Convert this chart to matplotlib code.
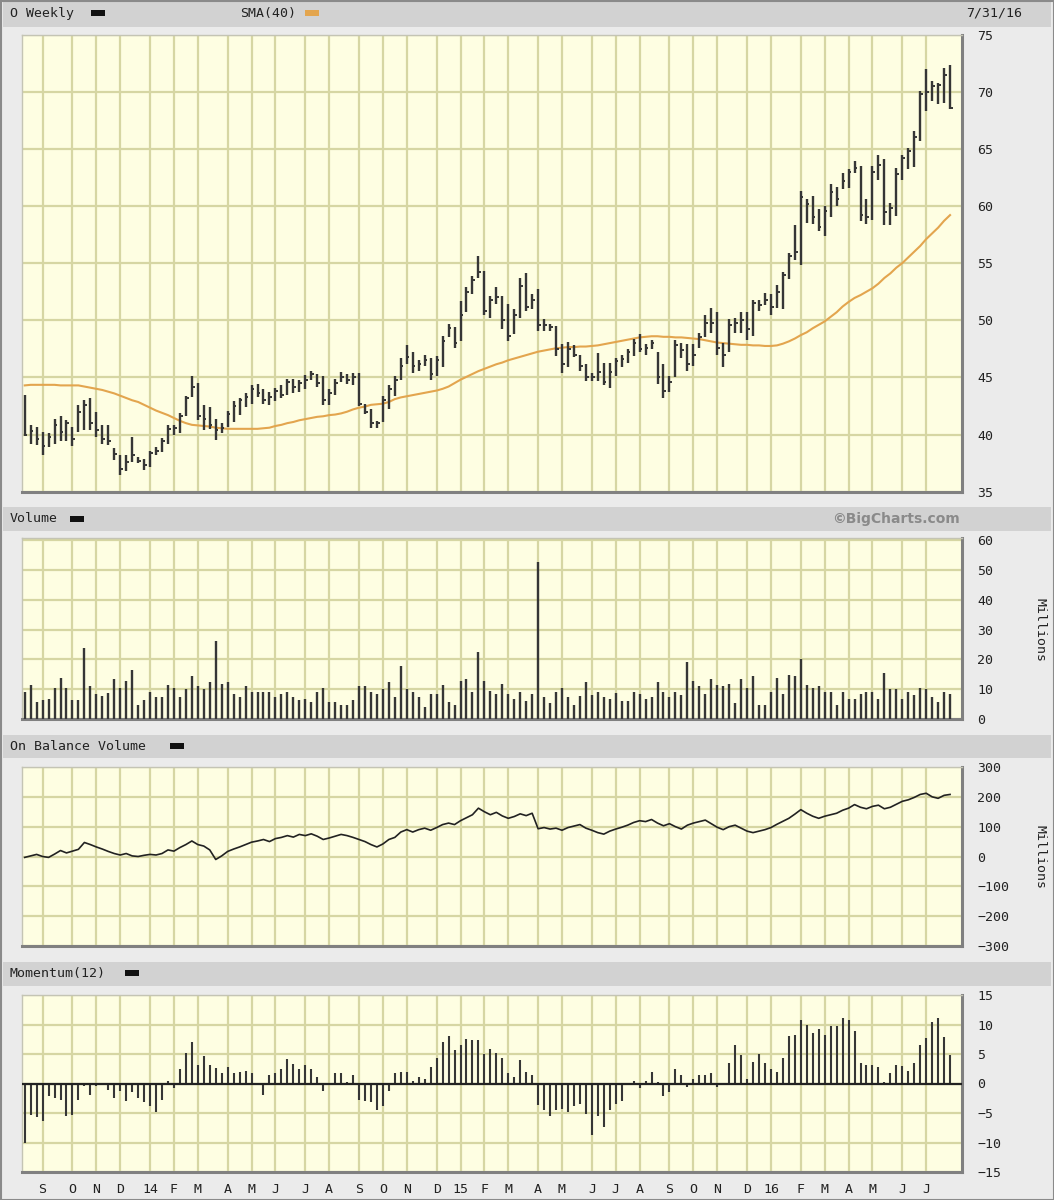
import numpy as np
import matplotlib
matplotlib.use("Agg")
import matplotlib.pyplot as plt
from matplotlib.patches import Rectangle
import pandas as pd

# ---------------- data ----------------
week_end = pd.date_range("2013-08-11", periods=156, freq="W-SUN")

high = [43.45, 40.8, 40.7, 40.25, 40.1, 41.4, 41.6, 41.3, 40.7, 42.6,
        43.0, 43.2, 42.0, 40.8, 40.8, 38.8, 38.2, 38.2, 39.8, 38.0,
        37.9, 38.6, 38.9, 39.7, 40.8, 40.8, 41.9, 43.4, 45.1, 44.5,
        42.6, 42.4, 41.4, 41.0, 42.1, 42.9, 43.2, 43.6, 44.3, 44.4,
        44.0, 43.7, 44.1, 44.3, 44.9, 44.9, 44.8, 45.2, 45.6, 45.3,
        45.1, 44.0, 44.9, 45.5, 45.3, 45.4, 45.4, 42.7, 42.2, 41.2,
        43.4, 44.3, 45.1, 46.7, 47.8, 47.2, 46.5, 47.0, 46.7, 46.9,
        48.6, 49.7, 49.4, 51.7, 52.9, 53.9, 55.6, 54.3, 52.1, 52.9,
        52.1, 51.4, 51.0, 53.7, 54.1, 52.3, 52.7, 50.1, 49.7, 49.5,
        47.9, 48.1, 47.8, 47.0, 46.2, 45.4, 47.1, 46.3, 46.3, 46.7,
        47.0, 47.5, 48.4, 48.8, 47.9, 48.3, 47.2, 46.2, 45.1, 48.3,
        48.0, 47.9, 47.9, 48.9, 50.5, 51.1, 50.7, 48.0, 50.1, 50.2,
        50.7, 50.7, 51.8, 51.8, 52.4, 52.3, 53.1, 54.2, 55.9, 58.3,
        61.3, 60.6, 60.9, 59.7, 60.0, 61.9, 61.7, 62.9, 63.2, 63.9,
        63.5, 60.6, 63.5, 64.5, 64.1, 60.3, 63.3, 64.5, 65.1, 66.6,
        70.1, 72.0, 70.9, 70.8, 72.1, 72.3]

low = [39.87, 39.2, 39.1, 38.2, 38.9, 39.2, 39.4, 39.4, 39.0, 40.2,
       40.4, 40.4, 39.8, 39.2, 39.1, 37.8, 36.5, 36.8, 37.6, 37.5,
       36.9, 37.2, 38.2, 38.5, 39.2, 40.0, 40.1, 41.6, 43.3, 41.3,
       40.4, 40.5, 39.5, 40.1, 40.7, 41.1, 41.7, 42.4, 42.7, 43.3,
       42.7, 42.6, 42.9, 43.2, 43.5, 43.6, 43.7, 44.0, 44.8, 44.2,
       42.6, 42.6, 43.5, 44.6, 44.4, 44.3, 42.5, 41.8, 40.6, 40.6,
       41.1, 42.2, 43.4, 44.8, 46.2, 45.4, 45.6, 46.0, 44.8, 45.1,
       45.9, 48.5, 47.6, 48.2, 50.7, 52.3, 53.7, 50.5, 50.2, 51.4,
       49.2, 48.2, 48.8, 50.2, 50.8, 51.0, 49.1, 49.1, 49.1, 46.9,
       45.4, 45.9, 46.8, 45.6, 44.7, 44.7, 44.7, 44.3, 44.1, 45.1,
       45.9, 46.3, 46.9, 47.2, 47.0, 47.5, 44.4, 43.2, 43.7, 45.0,
       46.7, 45.6, 46.0, 47.6, 48.5, 48.9, 47.0, 45.9, 47.2, 48.9,
       48.9, 48.3, 48.6, 50.8, 51.3, 50.5, 51.1, 51.0, 53.6, 55.3,
       54.8, 58.5, 58.4, 57.8, 57.4, 59.0, 60.0, 61.5, 61.6, 62.9,
       58.7, 58.4, 58.8, 62.3, 58.3, 58.3, 59.1, 62.3, 63.2, 63.4,
       65.7, 68.3, 69.2, 68.9, 69.0, 68.5]

close = [40.0, 40.3, 39.6, 39.0, 39.8, 40.8, 40.2, 41.0, 39.6, 42.0,
         42.6, 41.0, 40.4, 39.6, 39.4, 38.3, 37.0, 37.6, 38.2, 37.7,
         37.3, 38.4, 38.6, 39.4, 40.5, 40.6, 41.6, 43.2, 44.2, 41.6,
         41.4, 40.8, 40.4, 40.6, 41.8, 42.5, 43.0, 43.3, 44.0, 43.6,
         43.0, 43.3, 43.8, 43.5, 44.6, 44.2, 44.5, 44.8, 45.3, 44.5,
         43.0, 43.6, 44.5, 45.0, 44.8, 45.0, 42.7, 42.0, 41.0, 41.0,
         43.0, 44.0, 44.8, 46.0, 46.8, 46.0, 46.2, 46.5, 45.3, 46.5,
         48.2, 49.3, 48.0, 50.5, 52.5, 53.5, 54.2, 50.8, 51.8, 52.0,
         50.0, 48.6, 50.5, 53.0, 51.2, 51.8, 49.6, 49.6, 49.4, 47.5,
         46.2, 47.5, 47.0, 46.0, 45.0, 45.0, 45.5, 44.6, 45.5, 46.4,
         46.6, 47.2, 48.0, 47.5, 47.6, 48.0, 45.0, 43.8, 44.6, 47.8,
         47.4, 46.2, 47.0, 48.5, 49.8, 49.8, 47.6, 47.0, 49.6, 49.8,
         50.0, 49.2, 51.5, 51.3, 51.8, 51.2, 52.5, 54.0, 55.6, 56.0,
         60.8, 60.2, 59.0, 58.2, 59.6, 61.2, 60.6, 62.2, 63.0, 63.3,
         59.2, 59.0, 63.0, 63.6, 59.5, 59.8, 62.8, 64.2, 64.8, 66.0,
         69.8, 70.0, 70.5, 70.6, 71.5, 68.6]

sma40 = [44.3, 44.35, 44.35, 44.35, 44.35, 44.35, 44.3, 44.3, 44.3, 44.3,
         44.2, 44.1, 44.0, 43.9, 43.75, 43.6, 43.4, 43.2, 43.0, 42.85,
         42.6, 42.35, 42.1, 41.9, 41.7, 41.45, 41.2, 41.0, 40.85, 40.8,
         40.75, 40.7, 40.6, 40.55, 40.5, 40.5, 40.5, 40.5, 40.5, 40.5,
         40.55, 40.6, 40.75, 40.85, 41.0, 41.1, 41.25, 41.35, 41.45, 41.55,
         41.6, 41.7, 41.75, 41.85, 42.0, 42.2, 42.35, 42.45, 42.6, 42.65,
         42.7, 42.85, 43.1, 43.25, 43.35, 43.45, 43.55, 43.65, 43.75, 43.85,
         44.0, 44.2, 44.5, 44.8, 45.05, 45.3, 45.55, 45.75, 45.95, 46.15,
         46.3, 46.5, 46.65, 46.8, 46.95, 47.1, 47.25, 47.35, 47.45, 47.55,
         47.6, 47.65, 47.65, 47.7, 47.7, 47.75, 47.8, 47.9, 48.0, 48.1,
         48.2, 48.3, 48.4, 48.5, 48.55, 48.6, 48.6, 48.55, 48.55, 48.5,
         48.5, 48.45, 48.4, 48.35, 48.25, 48.15, 48.05, 48.0, 47.95, 47.9,
         47.85, 47.85, 47.8, 47.8, 47.75, 47.75, 47.8, 47.95, 48.15, 48.4,
         48.7, 48.95, 49.3, 49.6, 49.9, 50.3, 50.7, 51.2, 51.6, 51.95,
         52.2, 52.5, 52.8, 53.2, 53.7, 54.1, 54.6, 55.0, 55.5, 56.0,
         56.5, 57.1, 57.6, 58.1, 58.7, 59.2]

volume = [8.9, 11.4, 5.7, 6.3, 6.8, 10.3, 13.9, 10.3, 6.3, 6.3,
          23.8, 10.9, 8.3, 7.7, 8.6, 13.4, 10.3, 12.9, 16.3, 4.8,
          6.3, 9.2, 7.4, 7.4, 11.4, 10.3, 7.4, 10.0, 14.3, 11.1,
          10.0, 12.3, 26.3, 11.7, 12.3, 8.3, 7.4, 10.9, 8.9, 8.9,
          8.9, 8.9, 7.5, 8.3, 9.2, 7.5, 6.3, 6.8, 5.7, 8.9,
          10.3, 5.7, 5.7, 4.8, 4.8, 6.3, 10.9, 10.9, 8.9, 8.3,
          10.0, 12.3, 7.4, 17.8, 10.0, 8.9, 7.4, 3.9, 8.3, 8.3,
          11.4, 5.7, 4.8, 12.9, 13.4, 9.2, 22.4, 12.9, 9.4, 8.3,
          11.7, 8.3, 6.8, 9.2, 6.2, 8.3, 52.6, 7.4, 5.2, 9.2,
          10.3, 7.4, 4.8, 7.7, 12.3, 7.9, 9.2, 7.4, 6.8, 8.6,
          6.2, 6.2, 9.2, 8.3, 6.8, 7.4, 12.3, 9.2, 7.4, 9.2,
          7.9, 19.0, 12.9, 10.9, 8.3, 13.4, 11.4, 10.9, 11.7, 5.2,
          13.4, 10.3, 14.3, 4.8, 4.8, 9.2, 13.7, 8.3, 14.8, 14.3,
          20.1, 11.4, 10.3, 10.9, 9.2, 9.2, 4.8, 8.9, 6.8, 6.8,
          8.3, 9.2, 8.9, 6.8, 15.4, 10.0, 10.0, 6.8, 9.2, 7.9,
          10.3, 10.0, 7.4, 5.6, 9.2, 8.3]

obv = [-3, 2, 7, 0, -3, 8, 20, 12, 18, 24,
       47, 40, 32, 25, 17, 10, 5, 10, 2, 0,
       4, 7, 5, 10, 22, 18, 30, 40, 52, 40,
       35, 22, -10, 2, 17, 25, 32, 40, 48, 52,
       57, 50, 60, 64, 70, 65, 74, 70, 76, 68,
       57, 62, 68, 74, 70, 64, 57, 50, 40, 32,
       42, 57, 64, 82, 90, 82, 90, 95, 88, 97,
       107, 112, 107, 120, 130, 140, 162, 150, 140, 148,
       136, 128, 134, 143, 137, 145, 93, 97, 92, 95,
       88, 97, 102, 107, 95, 88, 80, 75, 85, 92,
       98, 105, 114, 120, 117, 124, 112, 103, 110, 100,
       92, 105, 112, 117, 122, 110, 98, 90, 100, 105,
       95, 85, 80, 85, 90, 97, 108, 118, 128, 142,
       157, 145, 135, 128, 135, 140, 145, 155, 162, 174,
       165, 160, 168, 172, 160, 165, 175, 185, 190, 198,
       208, 212, 200, 195, 205, 208]

momentum = [-10.1, -5.3, -5.7, -6.3, -2.1, -2.5, -2.8, -5.5, -5.3, -2.8,
            -0.5, -1.9, -0.5, 0.05, -1.1, -2.4, -1.3, -2.9, -1.5, -2.5,
            -3.2, -3.8, -4.9, -2.8, 0.4, -0.7, 2.5, 5.1, 7.1, 3.1,
            4.7, 3.1, 2.7, 1.8, 2.8, 1.8, 2.0, 2.2, 1.8, 0.05,
            -1.9, 1.4, 1.7, 2.5, 4.1, 3.3, 2.5, 3.1, 2.5, 1.1,
            -1.2, -0.3, 1.7, 1.7, 0.2, 1.4, -2.8, -2.9, -3.2, -4.5,
            -3.8, -1.3, 1.8, 2.0, 2.0, 0.4, 1.1, 0.8, 2.8, 4.4,
            7.1, 8.1, 5.7, 6.6, 7.5, 7.3, 7.3, 5.0, 5.8, 5.2,
            4.4, 1.8, 1.1, 4.0, 2.0, 1.4, -3.6, -4.5, -5.5, -4.5,
            -4.4, -4.9, -3.8, -3.5, -5.1, -8.7, -5.5, -7.4, -4.5, -3.4,
            -2.9, -0.2, 0.5, -0.7, 0.4, 2.0, 0.2, -2.2, -1.5, 2.4,
            1.4, -0.6, 0.8, 1.4, 1.4, 1.8, -0.6, -0.3, 3.5, 6.6,
            4.8, 0.8, 3.7, 5.0, 3.5, 2.4, 2.0, 4.4, 8.1, 8.3,
            10.7, 10.0, 8.6, 9.3, 8.3, 9.8, 9.8, 11.1, 10.7, 8.9,
            3.4, 3.1, 3.1, 2.8, 0.2, 1.7, 3.1, 2.9, 2.2, 3.4,
            6.6, 7.7, 10.4, 11.1, 7.9, 4.8]

month_letters = ["J", "F", "M", "A", "M", "J", "J", "A", "S", "O", "N", "D"]
price_ticks = [35, 40, 45, 50, 55, 60, 65, 70, 75]
volume_ticks = [0, 10, 20, 30, 40, 50, 60]
obv_ticks = [-300, -200, -100, 0, 100, 200, 300]
mom_ticks = [-15, -10, -5, 0, 5, 10, 15]

# ---------------- figure setup ----------------
W, H, DPI = 1054, 1200, 100
FONT = "DejaVu Sans Mono"
plt.rcParams["font.family"] = [FONT, "DejaVu Sans"]
fig = plt.figure(figsize=(W / DPI, H / DPI), dpi=DPI, facecolor="#ebebeb")

BG = "#fefee2"
GRID = "#d6d6a3"
BAR = "#363636"
SMA_C = "#e3a54e"

x = np.arange(len(week_end))
month_starts = pd.date_range("2013-09-01", "2016-07-01", freq="MS")
grid_x, grid_lab = [], []
for m in month_starts:
    idx = int(np.argmax(week_end >= m))
    grid_x.append(idx)
    grid_lab.append(f"{m.year % 100:02d}" if m.month == 1 else month_letters[m.month - 1])

XL = (-0.45, 157.0)


def px_axes(left, top, right, bottom):
    return fig.add_axes([left / W, 1 - bottom / H, (right - left) / W, (bottom - top) / H])


def header(top, bottom):
    fig.add_artist(Rectangle((3 / W, 1 - bottom / H), (W - 6) / W, (bottom - top) / H,
                             transform=fig.transFigure, facecolor="#d2d2d2",
                             edgecolor="none", zorder=0))


def legend_dash(x0, yc, color):
    fig.add_artist(Rectangle((x0 / W, 1 - (yc + 3) / H), 14 / W, 6 / H,
                             transform=fig.transFigure, facecolor=color,
                             edgecolor="none", zorder=2))


def htext(xp, yp, s, **kw):
    fig.text(xp / W, 1 - yp / H, s, va="center", fontsize=9.5, color="#222222", **kw)


def style(ax, yticks, ylim, labels=None):
    ax.set_facecolor(BG)
    ax.set_xlim(*XL)
    ax.set_ylim(*ylim)
    ax.set_xticks(grid_x)
    ax.set_yticks(yticks)
    ax.grid(True, color=GRID, lw=1.6, zorder=0)
    ax.set_axisbelow(True)
    ax.yaxis.tick_right()
    ax.tick_params(axis="both", length=0, labelsize=9.5, colors="#222222")
    ax.tick_params(axis="y", pad=11)
    if labels is None:
        ax.set_xticklabels([])
    else:
        ax.set_xticklabels(labels)
        ax.tick_params(axis="x", pad=8)
    for s in ("top", "left"):
        ax.spines[s].set_color("#c4c4b4")
        ax.spines[s].set_linewidth(1.0)
    for s in ("bottom", "right"):
        ax.spines[s].set_color("#808080")
        ax.spines[s].set_linewidth(2.2)


# header bars
header(0, 27)
header(507, 531)
header(735, 758)
header(962, 986)

htext(10, 13, "O Weekly")
legend_dash(91, 13, "#111111")
htext(240, 13, "SMA(40)")
legend_dash(305, 13, SMA_C)
htext(1022, 13, "7/31/16", ha="right")

htext(10, 519, "Volume")
legend_dash(70, 519, "#111111")
fig.text(960 / W, 1 - 519 / H, "\u00a9BigCharts.com", ha="right", va="center",
         fontsize=10, color="#8a8a8a", fontweight="bold", family="DejaVu Sans")

htext(10, 746, "On Balance Volume")
legend_dash(170, 746, "#111111")

htext(10, 973, "Momentum(12)")
legend_dash(125, 973, "#111111")

# ---------------- price panel ----------------
ax1 = px_axes(22, 34.5, 962, 491.7)
style(ax1, price_ticks, (35, 75))
ax1.vlines(x, low, high, color=BAR, lw=1.7, zorder=3)
ax1.hlines(close, x, x + 0.45, color=BAR, lw=1.4, zorder=3)
ax1.plot(x, sma40, color=SMA_C, lw=1.5, zorder=2)

# ---------------- volume panel ----------------
ax2 = px_axes(22, 538, 962, 719)
style(ax2, volume_ticks, (0, 60.7))
ax2.vlines(x, 0, volume, color=BAR, lw=1.7, zorder=3)
fig.text(1040 / W, 1 - 630 / H, "Millions", rotation=270, ha="center", va="center",
         fontsize=9.5, color="#222222")

# ---------------- OBV panel ----------------
ax3 = px_axes(22, 767, 962, 946)
style(ax3, obv_ticks, (-300, 300))
ax3.plot(x, obv, color="#222222", lw=1.2, zorder=3)
fig.text(1040 / W, 1 - 857 / H, "Millions", rotation=270, ha="center", va="center",
         fontsize=9.5, color="#222222")

# ---------------- momentum panel ----------------
ax4 = px_axes(22, 995, 962, 1172)
style(ax4, mom_ticks, (-15, 15), labels=grid_lab)
ax4.vlines(x, 0, momentum, color=BAR, lw=1.5, zorder=3)
ax4.axhline(0, color="#222222", lw=1.6, zorder=4)

# outer frame
fig.add_artist(Rectangle((0.5 / W, 0.5 / H), (W - 1) / W, (H - 1) / H, transform=fig.transFigure,
                         facecolor="none", edgecolor="#8a8a8a", lw=1.5, zorder=10))

fig.savefig("out.png", dpi=DPI, facecolor=fig.get_facecolor())
